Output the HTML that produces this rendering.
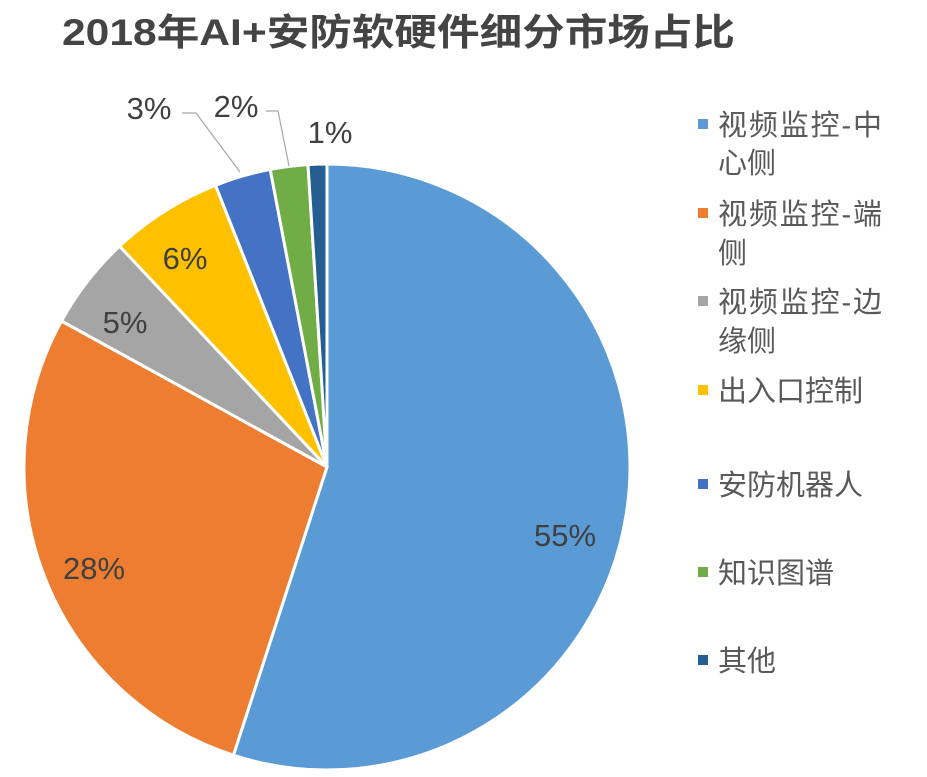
<!DOCTYPE html>
<html><head><meta charset="utf-8"><style>
body{margin:0;background:#fff;}
svg{display:block;font-family:"Liberation Sans","Noto Sans CJK SC",sans-serif;}
</style></head><body>
<svg width="927" height="777" viewBox="0 0 927 777">
<text x="62" y="45" font-size="37" font-weight="bold" fill="#444" textLength="673" lengthAdjust="spacingAndGlyphs">2018年AI+安防软硬件细分市场占比</text>
<g stroke="#fff" stroke-width="3" stroke-linejoin="round">
<path d="M327,467 L327,164 A303,303 0 1 1 233.4,755.2 Z" fill="#5b9bd5"/>
<path d="M327,467 L233.4,755.2 A303,303 0 0 1 61.5,321.0 Z" fill="#ed7d31"/>
<path d="M327,467 L61.5,321.0 A303,303 0 0 1 119.6,246.1 Z" fill="#a5a5a5"/>
<path d="M327,467 L119.6,246.1 A303,303 0 0 1 215.5,185.3 Z" fill="#ffc000"/>
<path d="M327,467 L215.5,185.3 A303,303 0 0 1 270.2,169.4 Z" fill="#4472c4"/>
<path d="M327,467 L270.2,169.4 A303,303 0 0 1 308.0,164.6 Z" fill="#70ad47"/>
<path d="M327,467 L308.0,164.6 A303,303 0 0 1 327,164 Z" fill="#255e91"/>
</g>
<g fill="none" stroke="#a6a6a6" stroke-width="1.2">
<polyline points="182,113 196,113 240,172"/>
<polyline points="266,111 278,111 289,166"/>
</g>
<g font-size="31" fill="#404040" text-anchor="middle">
<text x="565" y="546">55%</text>
<text x="94" y="579">28%</text>
<text x="125" y="333">5%</text>
<text x="185" y="269">6%</text>
<text x="149" y="119">3%</text>
<text x="236" y="117">2%</text>
<text x="330" y="143">1%</text>
</g>
<g font-size="29" fill="#595959">
<rect x="698" y="119" width="10" height="10" fill="#5b9bd5"/>
<text x="718" y="135" textLength="164">视频监控-中</text><text x="718" y="173">心侧</text>
<rect x="698" y="208" width="10" height="10" fill="#ed7d31"/>
<text x="718" y="224" textLength="164">视频监控-端</text><text x="718" y="263">侧</text>
<rect x="698" y="296" width="10" height="10" fill="#a5a5a5"/>
<text x="718" y="312" textLength="164">视频监控-边</text><text x="718" y="351">缘侧</text>
<rect x="698" y="385" width="10" height="10" fill="#ffc000"/>
<text x="718" y="401">出入口控制</text>
<rect x="698" y="479" width="10" height="10" fill="#4472c4"/>
<text x="718" y="495">安防机器人</text>
<rect x="698" y="567" width="10" height="10" fill="#70ad47"/>
<text x="718" y="583">知识图谱</text>
<rect x="698" y="655" width="10" height="10" fill="#255e91"/>
<text x="718" y="671">其他</text>
</g>
</svg>
</body></html>
